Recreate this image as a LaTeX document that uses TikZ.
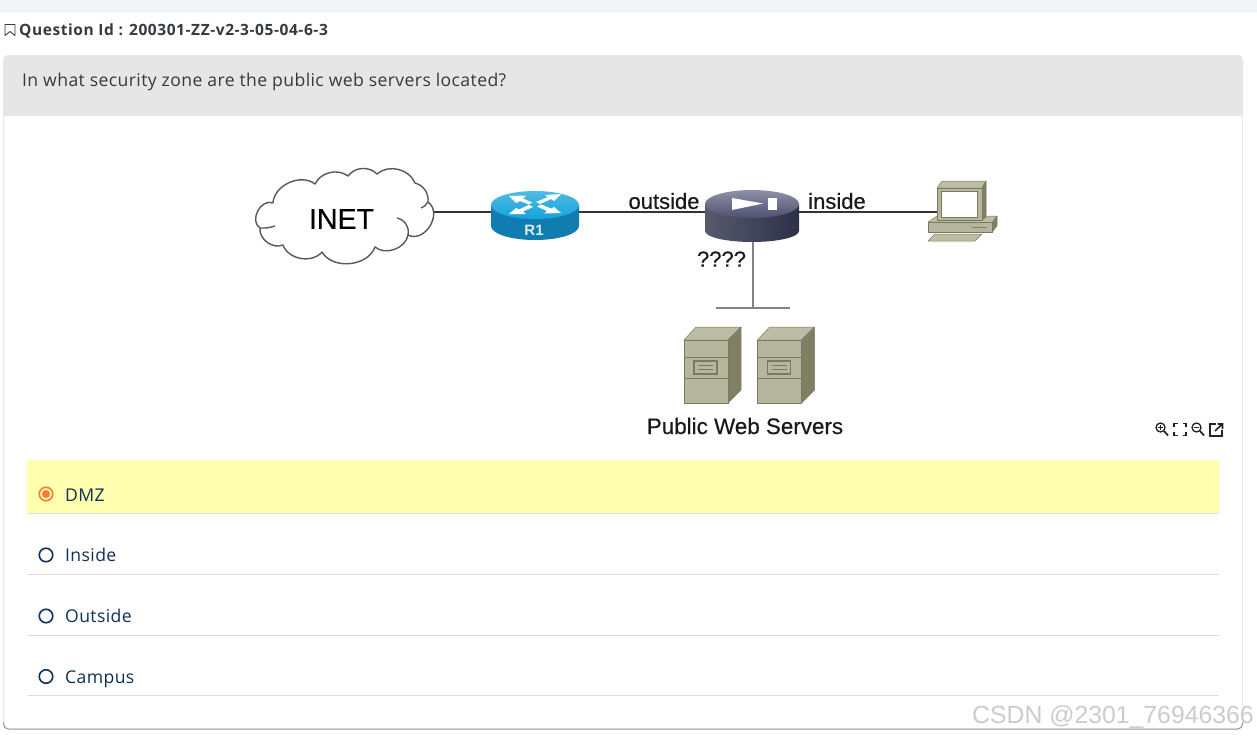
\documentclass[tikz,border=0pt]{standalone}
\usepackage{fontspec}
\setmainfont[LetterSpace=2.2]{Open Sans}
\newfontfamily\qidfont[LetterSpace=3.7]{Open Sans}
\newfontfamily\arial[FakeBold=0.35]{Liberation Sans}
\newfontfamily\arialplain{Liberation Sans}
\tikzset{
  x=1pt,y=-1pt,
  txt/.style={inner sep=0pt,anchor=base west,text=uiink},
  optlabel/.style={inner sep=0pt,anchor=base west,text=navy,font=\fontsize{17.6}{20}\selectfont},
  diag/.style={inner sep=0pt,text=black!90,font=\arial\fontsize{22}{24}\selectfont},
  radio/.style={circle,draw=navy,line width=1.6pt,minimum size=13.5pt,inner sep=0pt},
  rule/.style={draw=rulegray,line width=1pt},
  link/.style={draw=black!80,line width=1.1pt},
  bus/.style={draw=busgray,line width=2pt},
  beige/.style={fill=srvfront,draw=srvline,line width=.7pt,line join=round},
  beigetop/.style={fill=srvtop,draw=srvline,line width=.5pt,line join=round},
  beigeside/.style={fill=srvside,draw=srvline,line width=.5pt,line join=round},
  tool/.style={draw=toolink,line width=1.3pt},
}
\definecolor{uiink}{HTML}{343A40}
\definecolor{navy}{HTML}{0F3058}
\definecolor{rulegray}{HTML}{DEDEDE}
\definecolor{busgray}{HTML}{848484}
\definecolor{srvfront}{HTML}{B6B69E}
\definecolor{srvtop}{HTML}{BDBDA5}
\definecolor{srvside}{HTML}{7F7F63}
\definecolor{srvline}{HTML}{7A7A60}
\definecolor{toolink}{HTML}{222222}
\definecolor{routertop}{HTML}{16A3DC}
\definecolor{routerside}{HTML}{0F7DAF}
\definecolor{orangedot}{HTML}{FF7A33}
\definecolor{bandgray}{HTML}{F3F4F9}
\definecolor{optyellow}{HTML}{FFFFAF}
\definecolor{headgray}{HTML}{E6E6E6}
\definecolor{fwdark}{HTML}{2E3048}
\definecolor{fwmid}{HTML}{6C6F98}
\definecolor{fwtopa}{HTML}{8F90A8}
\definecolor{fwtopb}{HTML}{4E5070}
\newcommand{\serverbox}[1]{%
  \begin{scope}[xshift=#1]
    \path[beigetop] (684,340)--(696,327)--(741,327)--(728,340)--cycle;
    \path[beigeside] (728,340)--(741,327)--(741,390)--(728,403)--cycle;
    \path[beige] (684,340) rectangle (728,403);
    \draw[srvline,line width=.9pt] (684,357)--(728,357) (684,378)--(728,378);
    \draw[srvline,line width=1.1pt] (694,361) rectangle (717,374);
    \draw[srvline,line width=.7pt] (698,365.5)--(713,365.5) (698,369.5)--(713,369.5);
  \end{scope}}
\begin{document}
\begin{tikzpicture}
\useasboundingbox (0,0) rectangle (1257,736);
\fill[white] (0,0) rectangle (1257,736);
\fill[bandgray] (0,0) rectangle (1257,13);
% question id
\draw[uiink,line width=.9pt,line join=round] (5,24.5)--(15,24.5)--(15,35.5)--(10,31.5)--(5,35.5)--cycle;
\node[txt,font=\qidfont\bfseries\fontsize{15.5}{17}\selectfont] (qid) at (19,35) {Question Id : 200301-ZZ-v2-3-05-04-6-3};
% card
\draw[black!9,line width=1pt,rounded corners=5pt] (3.5,55.5) rectangle (1242.5,729);
\draw[black!40,line width=1pt,rounded corners=5pt] (3.5,722)--(3.5,729)--(1242.5,729)--(1242.5,722);
\begin{scope}
  \clip[rounded corners=5pt] (3.5,55) rectangle (1243,200);
  \fill[headgray] (3.5,55) rectangle (1243,116);
\end{scope}
\node[txt,font=\fontsize{17.6}{20}\selectfont] (q) at (22,86) {In what security zone are the public web servers located?};
% ports
\coordinate (inetE) at (433,212);
\coordinate (r1W) at (492,212);
\coordinate (r1E) at (578,212);
\coordinate (fwW) at (706,212);
\coordinate (fwE) at (799,212);
\coordinate (pcW) at (937,212);
\coordinate (fwS) at (752.5,240);
\coordinate (busL) at (716,308);
\coordinate (busR) at (790,308);
\coordinate (busM) at (752.5,308);
% connectors
\draw[link] (inetE)--(r1W);
\draw[link] (r1E)--(fwW);
\draw[link] (fwE)--(pcW);
\draw[bus] (fwS)--(busM);
\draw[bus] (busL)--(busR);
% cloud
\draw[black!65,line width=1.4pt,fill=white,line join=round]
 (273,203) to[bend left=62] (315,184) to[bend left=50] (348,176) to[bend left=50] (377,174)
 to[bend left=55] (415,183) to[bend left=40] (428,202) to[bend left=85,looseness=1.25] (408,235)
 to[bend left=60] (375,247) to[bend left=65] (322,252) to[bend left=60] (283,245)
 to[bend left=60] (260,228) to[bend left=85,looseness=1.2] (273,203);
\draw[black!65,line width=1.4pt] (408,235) to[bend right=45] (397,218)
 (260,228) to[bend right=10] (275,226)
 (428,202) to[bend left=20] (421,208);
\node[inner sep=0pt,text=black,font=\arial\fontsize{28.6}{30}\selectfont] (inet) at (341.5,219) {INET};
% router R1
\path[fill=routerside] (491,205) -- (491,226) arc[start angle=180,end angle=0,x radius=44,y radius=14] -- (579,205) -- cycle;
\shade[top color=routertop!75!white,bottom color=routertop] (535,205) ellipse[x radius=44,y radius=14];
\begin{scope}[shift={(535,205)}]
  \fill[white] (-26,-9)--(-9,-9.5)--(-12,-6.5)--(-3,-2.5)--(-6,-0.5)--(-15,-4)--(-19,-2)--cycle;
  \fill[white] (26,-11)--(10,-10)--(13,-8)--(1,-3)--(5,-1)--(16,-6)--(19,-4)--cycle;
  \fill[white] (-26,9)--(-9,9)--(-12,6.5)--(-2,2)--(-6,-0.2)--(-16,4.5)--(-19,3)--cycle;
  \fill[white] (26,8)--(9,8.5)--(12,6)--(2,1.5)--(6,-.5)--(16,3.5)--(19,2)--cycle;
\end{scope}
\node[inner sep=0pt,text=white,font=\arialplain\bfseries\fontsize{15}{16}\selectfont,opacity=.85] (r1) at (534,230) {R1};
% firewall
\shade[left color=fwdark!80,middle color=fwmid,right color=fwdark]
 (705,204)--(705,231) arc[start angle=180,end angle=0,x radius=47,y radius=11]--(799,204)--cycle;
\shade[top color=fwtopa,bottom color=fwtopb] (752,204) ellipse[x radius=47,y radius=14];
\fill[white] (732,198)--(732,210)--(763,203.5)--cycle;
\fill[white] (768,197.5) rectangle (777,210);
% labels
\node[diag] (lout) at (664,201) {outside};
\node[diag] (lin) at (837,201) {inside};
\node[diag] (lq) at (721.5,259) {????};
% pc
\path[beigetop] (928,222)--(937,216)--(997,216)--(992,223)--cycle;
\path[beigeside] (992,223)--(997,216)--(997,226)--(992,232)--cycle;
\path[beige] (928,222.5) rectangle (992,232);
\draw[srvside,line width=1.2pt] (972,227.5)--(987,227.5);
\path[beigetop] (928,241)--(935,234)--(982,234)--(975,241)--cycle;
\path[beigetop] (937,188)--(942,181)--(986,181)--(982,188)--cycle;
\path[beigeside] (982,188)--(986,181)--(986,217)--(982,220)--cycle;
\path[beige] (937,188) rectangle (982,220);
\fill[white,draw=srvline,line width=.4pt] (941,191) rectangle (977,217);
% servers
\serverbox{0pt}
\serverbox{73.5pt}
\node[inner sep=0pt,text=black!90,font=\arial\fontsize{22.4}{24}\selectfont] (pws) at (745,426) {Public Web Servers};
% tools
\draw[tool] (1160.5,427.5) circle[radius=4.5];
\draw[tool,line width=1.7pt] (1164,431)--(1168,435.5);
\draw[tool,line width=.8pt] (1158,427.5)--(1163,427.5) (1160.5,425)--(1160.5,430);
\draw[tool,line width=1.6pt] (1174,427)--(1174,423.5)--(1177.5,423.5) (1182.5,423.5)--(1186,423.5)--(1186,427)
 (1174,431.5)--(1174,435.5)--(1177.5,435.5) (1182.5,435.5)--(1186,435.5)--(1186,431.5);
\draw[tool] (1196.5,427.5) circle[radius=4.5];
\draw[tool,line width=1.7pt] (1200,431)--(1204,435.5);
\draw[tool,line width=.8pt] (1194,427.5)--(1199,427.5);
\draw[tool,line width=1.6pt] (1216,424.2)--(1210,424.2)--(1210,436)--(1222,436)--(1222,430);
\draw[tool,line width=1.6pt] (1215,431)--(1222,424.2) (1217.5,424)--(1222.5,424)--(1222.5,429);
% options
\fill[optyellow] (27,460) rectangle (1219,513);
\draw[rule] (27,513.5)--(1219,513.5);
\draw[rule] (27,574.5)--(1219,574.5);
\draw[rule] (27,635.5)--(1219,635.5);
\draw[rule] (27,695.5)--(1219,695.5);
\node[radio,draw=orangedot] (o1) at (46,494) {};
\fill[orangedot] (o1.center) circle[radius=4];
\node[radio] (o2) at (46,555) {};
\node[radio] (o3) at (46,616) {};
\node[radio] (o4) at (46,676.5) {};
\node[optlabel] (t1) at (65,501) {DMZ};
\node[optlabel] (t2) at (65,561) {Inside};
\node[optlabel] (t3) at (65,622) {Outside};
\node[optlabel] (t4) at (65,683) {Campus};
% watermark
\node[inner sep=0pt,anchor=base west,text=black!20,font=\arialplain\fontsize{24.8}{26}\selectfont] (wm) at (972,723) {CSDN @2301\_76946366};
\end{tikzpicture}
\end{document}
